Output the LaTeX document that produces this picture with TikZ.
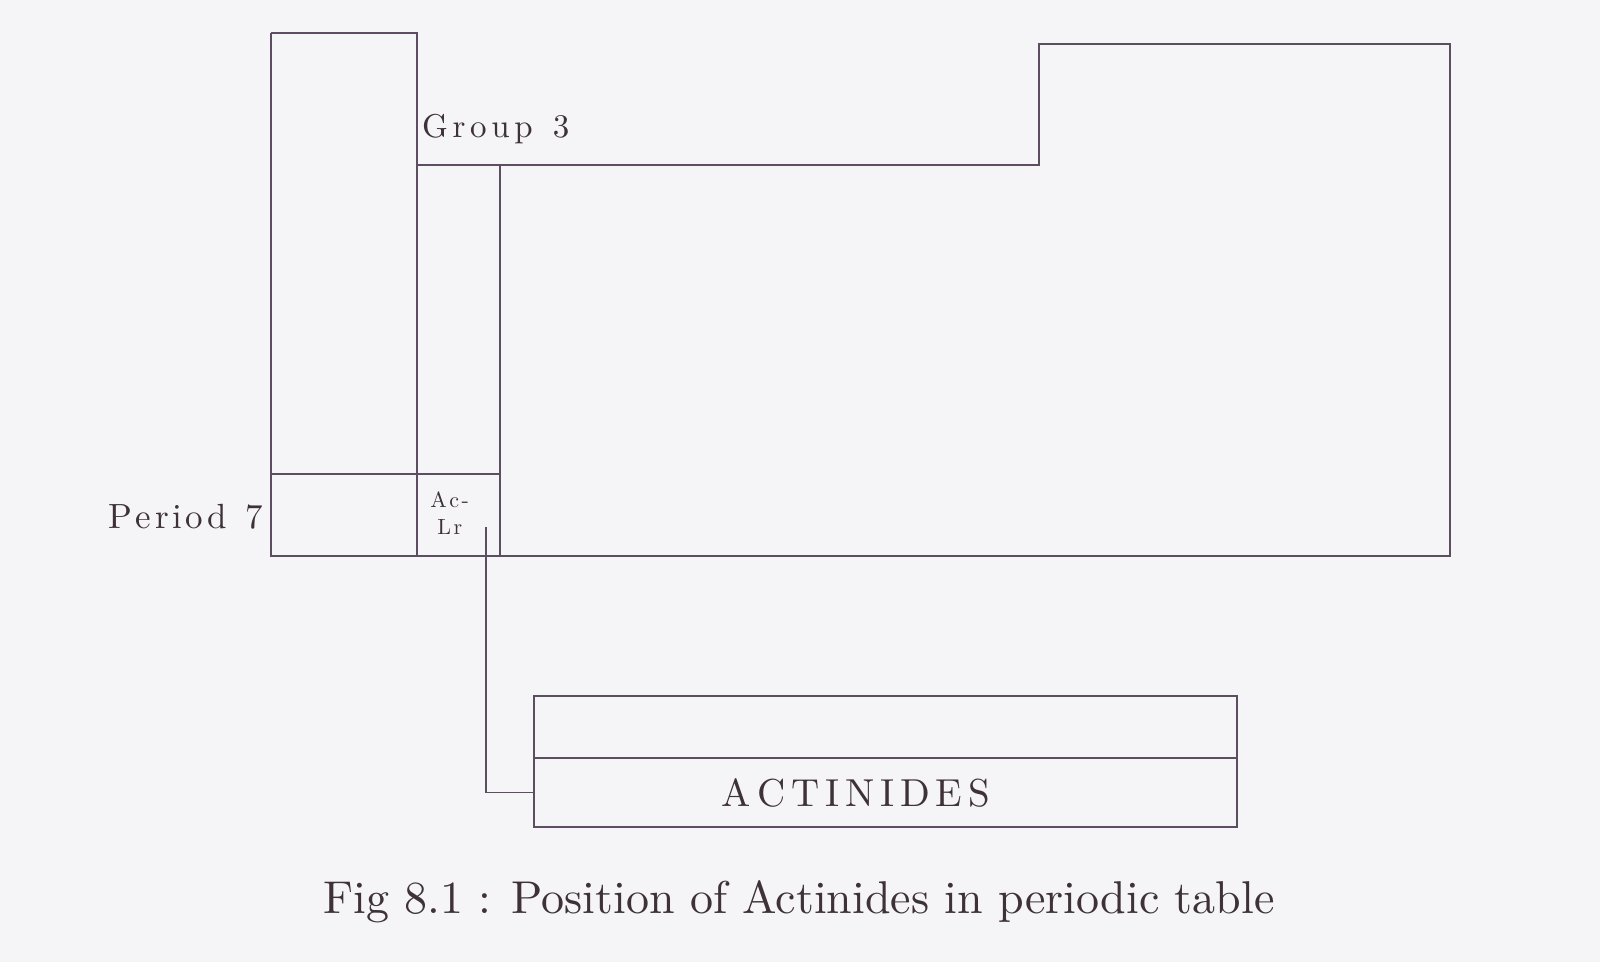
\documentclass[tikz,border=0pt]{standalone}
\usepackage{fontspec}
\setmainfont{lmroman10-regular}[Extension=.otf]
\definecolor{ink}{RGB}{92,78,96}
\definecolor{txt}{RGB}{62,50,56}
\definecolor{paper}{RGB}{245,245,248}
\newdimen\lsamt
\def\spaced#1#2{\lsamt=#1\relax\lsA#2\relax}
\def\lsA#1{\ifx#1\relax\else#1\kern\lsamt\expandafter\lsA\fi}
\begin{document}
\begin{tikzpicture}[x=1pt,y=-1pt]
\tikzset{
  frame/.style={draw=ink, line width=1.8pt, line join=miter},
  lbl/.style={text=txt, inner sep=0pt},
  boxpart/.style={draw=ink, line width=1.8pt, rectangle, inner sep=0pt, minimum width=703pt, minimum height=66pt},
}
\fill[paper] (0,0) rectangle (1600,962);
\useasboundingbox (0,0) rectangle (1600,962);

% periodic table outline
\draw[frame] (271,33) -- (417,33) -- (417,556);
\draw[frame] (417,165) -- (1039,165) -- (1039,44) -- (1450,44) -- (1450,556) -- (271,556) -- (271,33);
\draw[frame] (500,165) -- (500,556);
\draw[frame] (271,474) -- (500,474);

% labels
\node[lbl, anchor=base west, font=\fontsize{33}{40}\selectfont] (g3) at (422,137) {\spaced{4.6pt}{Group~3}};
\node[lbl, anchor=base east, font=\fontsize{35}{42}\selectfont] (p7) at (267,528) {\spaced{3.7pt}{Period~7}};
\node[lbl, align=center, font=\fontsize{22}{27}\selectfont] (aclr) at (451,513) {\spaced{2.5pt}{Ac-}\\\spaced{2.5pt}{Lr}};

% actinides box
\node[boxpart, minimum height=62pt] (actup) at (885.5,727) {};
\node[boxpart, minimum height=69pt] (actlow) at (885.5,792.5) {};
\node[lbl, font=\fontsize{39}{47}\selectfont] (acttext) at (859,793) {\spaced{5.9pt}{ACTINIDES}};

% connector
\coordinate (tick) at (486,527);
\draw[frame] (tick) |- (actlow.west);

% caption
\node[lbl, anchor=base west, font=\fontsize{46}{55}\selectfont] (cap) at (323,913) {Fig 8.1 : Position of Actinides in periodic table};
\end{tikzpicture}
\end{document}
